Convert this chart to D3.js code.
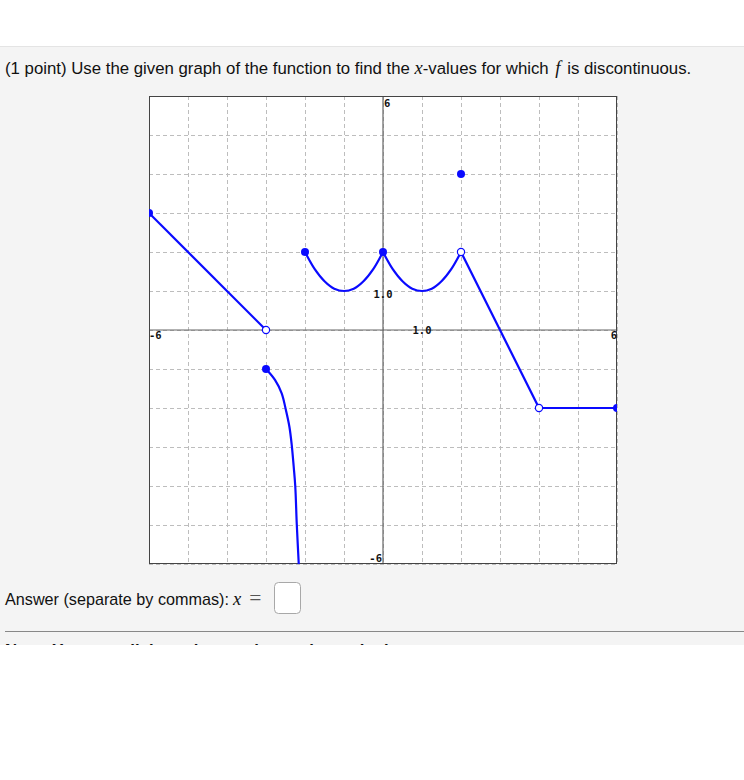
<!DOCTYPE html>
<html>
<head>
<meta charset="utf-8">
<script src="https://cdn.jsdelivr.net/npm/d3@7"></script>
<style>
  body { margin: 0; background: #fff; }
  svg { display: block; }
</style>
</head>
<body>
<div id="wrapper"></div>
<script>
// grid values and axis labels
const gridValues = [-6, -5, -4, -3, -2, -1, 0, 1, 2, 3, 4, 5, 6]
const axisLabels = [
    {axis: "x", value: -6, text: "-6"},
    {axis: "x", value: 6, text: "6"},
    {axis: "x", value: 1, text: "1.0"},
    {axis: "y", value: 6, text: "6"},
    {axis: "y", value: -6, text: "-6"},
    {axis: "y", value: 1, text: "1.0"},
]

// pieces of the graph
const lineLeft = [[-6, 3], [-3, 0]]
const curveDown = [[-3, -1], [-2.77, -1.28], [-2.6, -1.62], [-2.49, -2.05], [-2.4, -2.48],
    [-2.34, -2.95], [-2.29, -3.5], [-2.25, -4.0], [-2.21, -5.0], [-2.16, -6]]
const bowlLeft = [[-2, 2], [-1.75, 1.56], [-1.5, 1.25], [-1.25, 1.06], [-1, 1],
    [-0.75, 1.06], [-0.5, 1.25], [-0.25, 1.56], [0, 2]]
const bowlRight = [[0, 2], [0.25, 1.56], [0.5, 1.25], [0.75, 1.06], [1, 1],
    [1.25, 1.06], [1.5, 1.25], [1.75, 1.56], [2, 2]]
const lineDrop = [[2, 2], [4, -2]]
const lineFlat = [[4, -2], [6, -2]]
const closedDots = [[-6, 3], [-3, -1], [-2, 2], [0, 2], [2, 4], [6, -2]]
const openDots = [[-3, 0], [2, 2], [4, -2]]

const blue = "#0a0aff"

let dimensions = {
    width: 744,
    height: 780,
    plot: {left: 149, top: 96, size: 468},
}

const wrapper = d3.select("#wrapper")
    .append("svg")
    .attr("width", dimensions.width)
    .attr("height", dimensions.height)

// grey problem panel
wrapper.append("rect")
    .attr("x", 0).attr("y", 46)
    .attr("width", dimensions.width).attr("height", 599)
    .attr("fill", "#f4f4f4")
wrapper.append("line")
    .attr("x1", 0).attr("x2", dimensions.width)
    .attr("y1", 46.5).attr("y2", 46.5)
    .attr("stroke", "#e4e4e4")

const sans = "'Liberation Sans', Arial, sans-serif"
const serif = "'Liberation Serif', 'DejaVu Serif', serif"
const textSize = 16.8
const mathSize = 18.5

const title = wrapper.append("text")
    .attr("x", 5).attr("y", 74)
    .attr("font-family", sans).attr("font-size", textSize)
    .attr("fill", "#111")
title.append("tspan").text("(1 point) Use the given graph of the function to find the ")
title.append("tspan").text("x").attr("font-family", serif).attr("font-style", "italic").attr("font-size", mathSize)
title.append("tspan").text("-values for which ")
title.append("tspan").text("f").attr("font-family", serif).attr("font-style", "italic").attr("font-size", mathSize)
    .attr("dx", 2)
title.append("tspan").text(" is discontinuous.").attr("dx", 2)

// plot
const p = dimensions.plot
const xScale = d3.scaleLinear().domain([-6, 6]).range([p.left, p.left + p.size])
const yScale = d3.scaleLinear().domain([-6, 6]).range([p.top + p.size, p.top])

wrapper.append("rect")
    .attr("x", p.left).attr("y", p.top)
    .attr("width", p.size).attr("height", p.size)
    .attr("fill", "#fff")

const gridX = wrapper.append("g")
    .attr("transform", `translate(0, ${p.top})`)
    .call(d3.axisBottom(xScale).tickValues(gridValues).tickSize(p.size).tickFormat(""))
const gridY = wrapper.append("g")
    .attr("transform", `translate(${p.left}, 0)`)
    .call(d3.axisRight(yScale).tickValues(gridValues).tickSize(p.size).tickFormat(""))
wrapper.selectAll(".domain").remove()
wrapper.selectAll(".tick line")
    .attr("stroke", "#bdbdbd")
    .attr("stroke-dasharray", "4,3")

// axes through the origin
wrapper.append("line")
    .attr("x1", xScale(-6)).attr("x2", xScale(6))
    .attr("y1", yScale(0)).attr("y2", yScale(0))
    .attr("stroke", "#666").attr("stroke-width", 1.2)
wrapper.append("line")
    .attr("x1", xScale(0)).attr("x2", xScale(0))
    .attr("y1", yScale(-6)).attr("y2", yScale(6))
    .attr("stroke", "#666").attr("stroke-width", 1.2)

wrapper.append("rect")
    .attr("x", p.left + 0.5).attr("y", p.top + 0.5)
    .attr("width", p.size - 1).attr("height", p.size - 1)
    .attr("fill", "none").attr("stroke", "#444")

// axis labels
const mono = "'DejaVu Sans Mono', monospace"
wrapper.selectAll(".axislabel")
    .data(axisLabels)
    .join("text")
    .attr("class", "axislabel")
    .attr("font-family", mono).attr("font-weight", "bold").attr("font-size", 10.5)
    .attr("fill", "#111")
    .attr("x", d => {
        if (d.axis == "x") {
            if (d.value == -6) return xScale(-6)
            if (d.value == 6) return xScale(6)
            return xScale(d.value)
        }
        return d.value == -6 ? xScale(0) - 1 : xScale(0) + (d.value == 6 ? 1 : 0)
    })
    .attr("y", d => {
        if (d.axis == "x") return yScale(0) + (d.value == 1 ? 4 : 9)
        if (d.value == 6) return yScale(6) + 11
        if (d.value == -6) return yScale(-6) - 2
        return yScale(d.value) + 7
    })
    .attr("text-anchor", d => {
        if (d.axis == "x") return d.value == -6 ? "start" : d.value == 6 ? "end" : "middle"
        return d.value == 6 ? "start" : d.value == -6 ? "end" : "middle"
    })
    .text(d => d.text)

// function graph
wrapper.append("clipPath").attr("id", "plotclip")
    .append("rect")
    .attr("x", p.left).attr("y", p.top)
    .attr("width", p.size).attr("height", p.size)
const graph = wrapper.append("g").attr("clip-path", "url(#plotclip)")

const lineGenerator = d3.line()
    .x(d => xScale(d[0]))
    .y(d => yScale(d[1]))
    .curve(d3.curveCatmullRom)

const pieces = [lineLeft, curveDown, bowlLeft, bowlRight, lineDrop, lineFlat]
graph.selectAll(".piece")
    .data(pieces)
    .join("path")
    .attr("class", "piece")
    .attr("d", lineGenerator)
    .attr("fill", "none")
    .attr("stroke", blue)
    .attr("stroke-width", 2.2)

graph.selectAll(".closed")
    .data(closedDots)
    .join("circle")
    .attr("class", "closed")
    .attr("cx", d => xScale(d[0])).attr("cy", d => yScale(d[1]))
    .attr("r", 4)
    .attr("fill", blue)

graph.selectAll(".open")
    .data(openDots)
    .join("circle")
    .attr("class", "open")
    .attr("cx", d => xScale(d[0])).attr("cy", d => yScale(d[1]))
    .attr("r", 3.6)
    .attr("fill", "#fff")
    .attr("stroke", blue)
    .attr("stroke-width", 1.2)

// answer line
const answer = wrapper.append("text")
    .attr("x", 5).attr("y", 605)
    .attr("font-family", sans).attr("font-size", 16.2)
    .attr("fill", "#111")
answer.append("tspan").text("Answer (separate by commas):")
answer.append("tspan").text("x").attr("dx", 4).attr("font-family", serif).attr("font-style", "italic").attr("font-size", mathSize)
answer.append("tspan").text("=").attr("dx", 8).attr("font-family", serif).attr("font-size", mathSize + 3).attr("fill", "#555")

wrapper.append("rect")
    .attr("x", 274.5).attr("y", 582.5)
    .attr("width", 26).attr("height", 31)
    .attr("rx", 4)
    .attr("fill", "#fff")
    .attr("stroke", "#a8a8a8")

wrapper.append("line")
    .attr("x1", 5).attr("x2", dimensions.width)
    .attr("y1", 631.5).attr("y2", 631.5)
    .attr("stroke", "#888").attr("stroke-width", 1.2)

// note text, cut off by the panel edge
wrapper.append("clipPath").attr("id", "panelclip")
    .append("rect").attr("x", 0).attr("y", 46).attr("width", dimensions.width).attr("height", 599)
wrapper.append("text")
    .attr("clip-path", "url(#panelclip)")
    .attr("x", 5).attr("y", 656)
    .attr("font-family", sans).attr("font-size", textSize).attr("font-weight", "bold")
    .attr("fill", "#111")
    .text("Note: You can click on the graph to enlarge the image.")
</script>
</body>
</html>
